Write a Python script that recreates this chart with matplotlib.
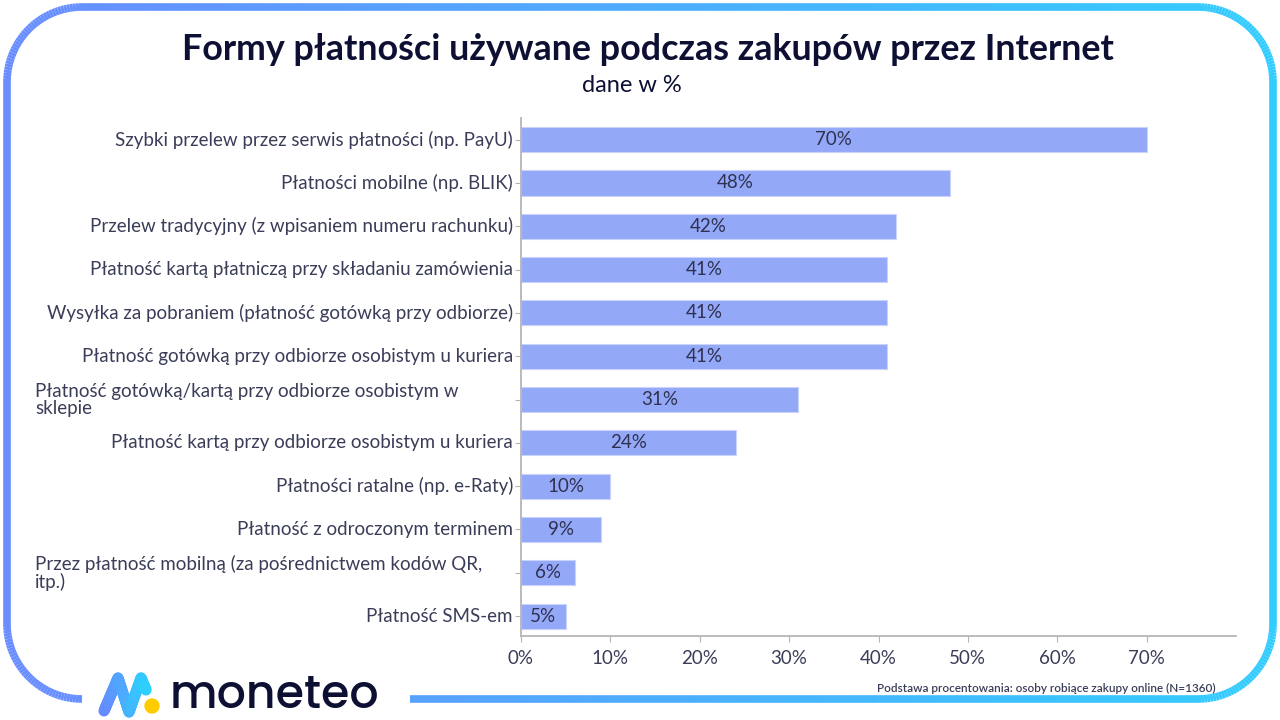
import numpy as np
import matplotlib.pyplot as plt
from matplotlib.collections import LineCollection
from matplotlib.transforms import blended_transform_factory

plt.rcParams['font.family'] = ['Lato', 'DejaVu Sans']

labels = [
    "Szybki przelew przez serwis płatności (np. PayU)",
    "Płatności mobilne (np. BLIK)",
    "Przelew tradycyjny (z wpisaniem numeru rachunku)",
    "Płatność kartą płatniczą przy składaniu zamówienia",
    "Wysyłka za pobraniem (płatność gotówką przy odbiorze)",
    "Płatność gotówką przy odbiorze osobistym u kuriera",
    "Płatność gotówką/kartą przy odbiorze osobistym w\nsklepie",
    "Płatność kartą przy odbiorze osobistym u kuriera",
    "Płatności ratalne (np. e-Raty)",
    "Płatność z odroczonym terminem",
    "Przez płatność mobilną (za pośrednictwem kodów QR,\nitp.)",
    "Płatność SMS-em",
]
values = [70, 48, 42, 41, 41, 41, 31, 24, 10, 9, 6, 5]
xticks = [0, 10, 20, 30, 40, 50, 60, 70]

navy = "#0d1033"
label_col = "#3a3d58"
bar_col = "#94a8f8"
c_left = np.array([105, 140, 255]) / 255
c_right = np.array([50, 205, 255]) / 255

W, H = 1280, 720
fig = plt.figure(figsize=(12.8, 7.2), dpi=100)
fig.patch.set_facecolor("white")

# decoration layer in pixel coords
deco = fig.add_axes([0, 0, 1, 1], zorder=0)
deco.set_xlim(0, W)
deco.set_ylim(H, 0)
deco.axis("off")


def arc(cx, cy, r, a0, a1, n=40):
    t = np.radians(np.linspace(a0, a1, n))
    return np.column_stack([cx + r * np.cos(t), cy + r * np.sin(t)])


def seg(p0, p1, n=200):
    return np.column_stack([np.linspace(p0[0], p1[0], n), np.linspace(p0[1], p1[1], n)])


x0, x1, y0, y1, r = 7, 1273, 7, 699, 75
pts = np.vstack([
    arc(x0 + r, y1 - r, r, 90, 180),
    seg((x0, y1 - r), (x0, y0 + r)),
    arc(x0 + r, y0 + r, r, 180, 270),
    seg((x0 + r, y0), (x1 - r, y0), 600),
    arc(x1 - r, y0 + r, r, 270, 360),
    seg((x1, y0 + r), (x1, y1 - r)),
    arc(x1 - r, y1 - r, r, 0, 90),
    seg((x1 - r, y1), (410, y1), 400),
])
segs = np.stack([pts[:-1], pts[1:]], axis=1)
frac = ((segs[:, 0, 0] + segs[:, 1, 0]) / 2 / W)[:, None]
cols = c_left * (1 - frac) + c_right * frac
deco.add_collection(LineCollection(segs, colors=cols, linewidths=5.5, capstyle="butt"))

# logo
logo = np.array([[104, 711], [118, 678], [129, 712], [141, 678], [146, 690]])
lp = np.vstack([seg(logo[i], logo[i + 1], 30) for i in range(len(logo) - 1)])
lsegs = np.stack([lp[:-1], lp[1:]], axis=1)
lf = (((lsegs[:, 0, 0] + lsegs[:, 1, 0]) / 2 - 100) / 50)[:, None]
lcols = np.array([110, 130, 255]) / 255 * (1 - lf) + np.array([40, 215, 255]) / 255 * lf
deco.add_collection(LineCollection(lsegs, colors=lcols, linewidths=8, capstyle="round", joinstyle="round"))
deco.add_patch(plt.Circle((152, 706), 7, color="#ffcc00"))
deco.text(170, 697, "moneteo", fontsize=33, color=navy, family=["Poppins", "Inter", "DejaVu Sans"],
          va="center", ha="left", fontweight="medium")

fig.text(648 / W, 1 - 50 / H, "Formy płatności używane podczas zakupów przez Internet",
         fontsize=25.8, fontweight="bold", color=navy, ha="center", va="center")
fig.text(632 / W, 1 - 86 / H, "dane w %", fontsize=17, color=navy, ha="center", va="center")
fig.text(1216 / W, 1 - 688 / H, "Podstawa procentowania: osoby robiące zakupy online (N=1360)",
         fontsize=8.5, color=label_col, ha="right", va="center", fontweight="semibold")

# chart
ax = fig.add_axes([521 / W, 1 - 636 / H, (1236 - 521) / W, (636 - 118) / H], zorder=1)
ax.patch.set_alpha(0)
y = np.arange(len(values))
ax.barh(y, values, height=0.58, color=bar_col, edgecolor="#c9d3fb", linewidth=0.8)
ax.set_ylim(len(values) - 0.54, -0.5)
ax.set_xlim(0, 80)
ax.set_xticks(xticks)
ax.set_xticklabels([f"{v}%" for v in xticks])
ax.set_yticks(y)
ax.set_yticklabels([])
for s in ["top", "right"]:
    ax.spines[s].set_visible(False)
for s in ["left", "bottom"]:
    ax.spines[s].set_color("#b5b5b5")
    ax.spines[s].set_linewidth(1.3)
ax.tick_params(axis="x", colors="#b5b5b5", labelcolor=label_col, labelsize=13.5, length=4, pad=6)
ax.tick_params(axis="y", colors="#b5b5b5", length=4)

trans = blended_transform_factory(fig.transFigure, ax.transData)
for i, (lab, v) in enumerate(zip(labels, values)):
    if "\n" in lab:
        ax.text(35 / W, i, lab, transform=trans, ha="left", va="center", fontsize=13.5,
                color=label_col, linespacing=1.0)
    else:
        ax.text(513 / W, i, lab, transform=trans, ha="right", va="center", fontsize=13.5,
                color=label_col)
    ax.text(v / 2, i, f"{v}%", ha="center", va="center", fontsize=13.5, color="#2e3150")

fig.savefig("out.png", dpi=100, facecolor="white")
